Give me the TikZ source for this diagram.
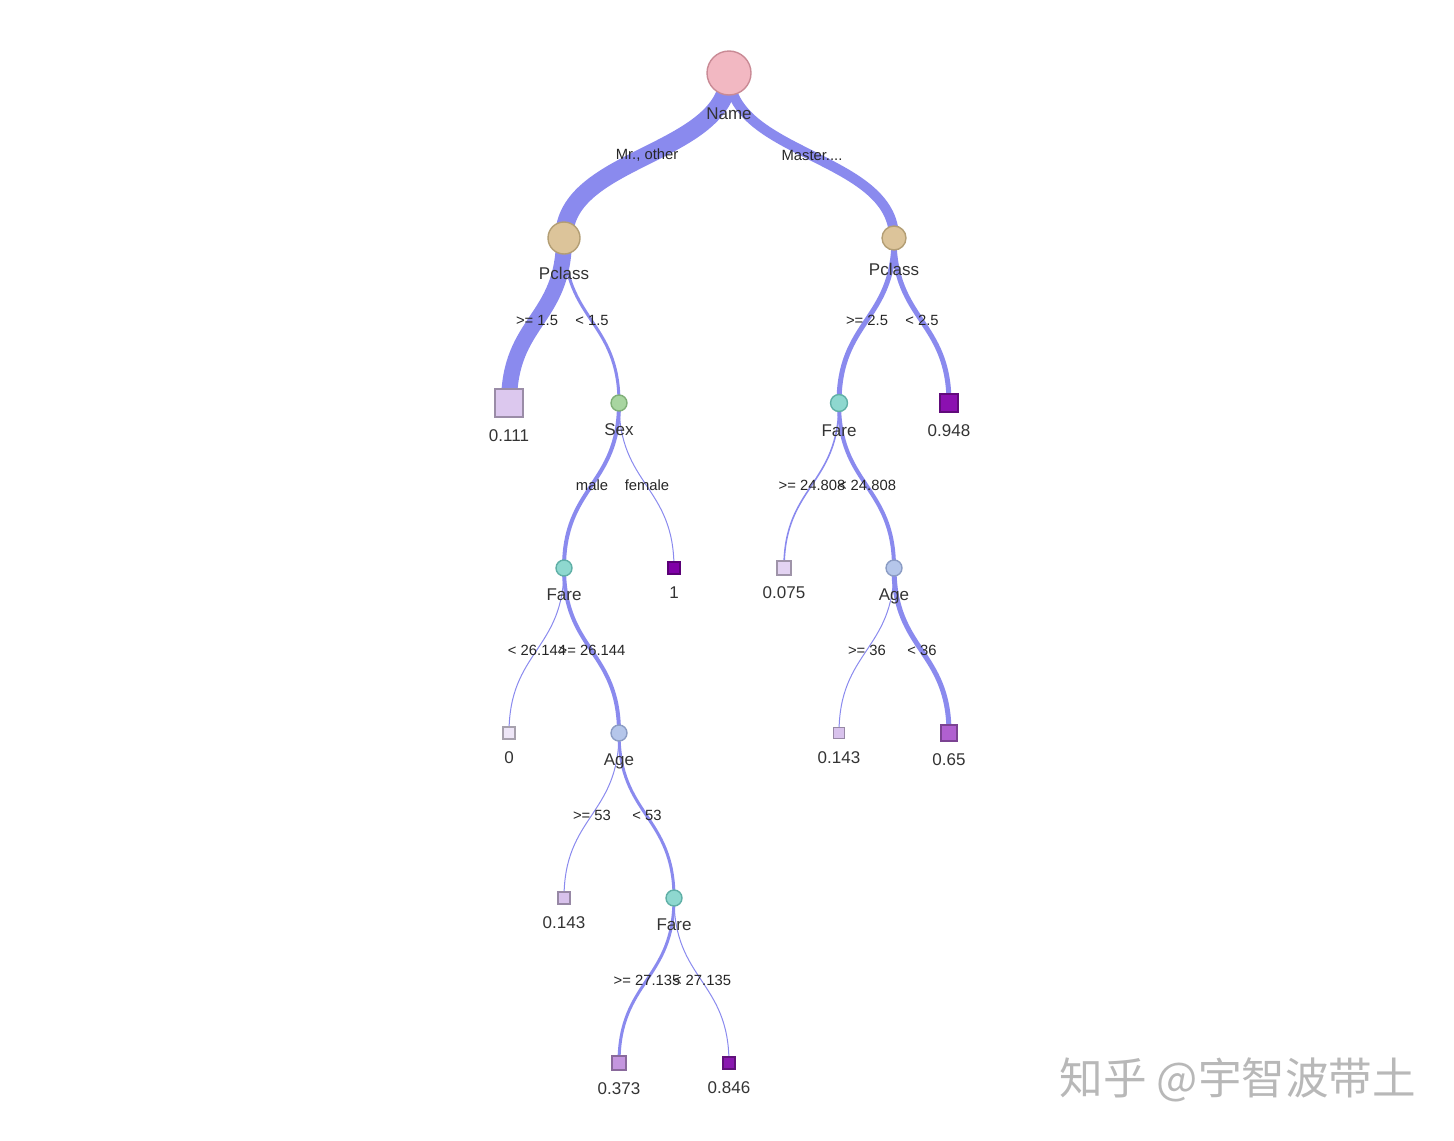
\documentclass[tikz,border=0pt]{standalone}
\usepackage{fontspec}
\setmainfont{Liberation Sans}
\newfontfamily\cjk{Noto Sans CJK SC}
\usetikzlibrary{calc,backgrounds}
\definecolor{eblue}{HTML}{8A8AEE}
\definecolor{rootc}{HTML}{F2B8C2}
\definecolor{rootd}{HTML}{C98A95}
\definecolor{tanc}{HTML}{DCC49A}
\definecolor{tand}{HTML}{B39E74}
\definecolor{tealc}{HTML}{8ED8CF}
\definecolor{teald}{HTML}{5FAFA6}
\definecolor{agec}{HTML}{B5C6EA}
\definecolor{aged}{HTML}{8B9CC4}
\definecolor{sexc}{HTML}{A8D5A0}
\definecolor{sexd}{HTML}{7FAF77}
\definecolor{la}{HTML}{DCC8EE}
\definecolor{lb}{HTML}{8B10B0}
\definecolor{lc}{HTML}{8000A8}
\definecolor{ld}{HTML}{E3D3F2}
\definecolor{le}{HTML}{EEE6F7}
\definecolor{lf}{HTML}{D8C2EC}
\definecolor{lg}{HTML}{B060D0}
\definecolor{lh}{HTML}{C496DE}
\definecolor{li}{HTML}{8A18B0}
\begin{document}
\begin{tikzpicture}[x=0.5pt,y=-0.5pt,
 inner/.style={circle,draw,line width=0.7pt,inner sep=0pt},
 leaf/.style={rectangle,draw,line width=0.7pt,inner sep=0pt},
 lab/.style={font=\fontsize{8.5}{10}\selectfont,text=black!80,inner sep=0pt},
 elab/.style={font=\fontsize{7.4}{9}\selectfont,text=black!85,inner sep=0pt},
 edge/.style={draw=eblue,line cap=butt}]
\useasboundingbox (0,0) rectangle (1454,1140);
\newcommand{\ed}[3]{\begin{pgfonlayer}{background}\draw[edge,line width=#3] let \p1=(#1.center),\p2=(#2.center) in (\p1) .. controls (\x1,{(\y1+\y2)/2}) and (\x2,{(\y1+\y2)/2}) .. (\p2);\end{pgfonlayer}}
% inner nodes
\node[inner,minimum size=22pt,fill=rootc,draw=rootd] (r) at (729,73) {};
\node[inner,minimum size=16pt,fill=tanc,draw=tand] (p1) at (564,238) {};
\node[inner,minimum size=12pt,fill=tanc,draw=tand] (p2) at (894,238) {};
\node[inner,minimum size=8pt,fill=sexc,draw=sexd] (sex) at (619,403) {};
\node[inner,minimum size=8.5pt,fill=tealc,draw=teald] (f1) at (839,403) {};
\node[inner,minimum size=8pt,fill=tealc,draw=teald] (f2) at (564,568) {};
\node[inner,minimum size=8pt,fill=agec,draw=aged] (a1) at (894,568) {};
\node[inner,minimum size=8pt,fill=agec,draw=aged] (a2) at (619,733) {};
\node[inner,minimum size=8pt,fill=tealc,draw=teald] (f3) at (674,898) {};
% leaves
\node[leaf,minimum size=14pt,fill=la,draw=la!70!black] (l111) at (509,403) {};
\node[leaf,minimum size=9pt,fill=lb,draw=lb!70!black] (l948) at (949,403) {};
\node[leaf,minimum size=6pt,fill=lc,draw=lc!70!black] (l1) at (674,568) {};
\node[leaf,minimum size=7pt,fill=ld,draw=ld!70!black] (l075) at (784,568) {};
\node[leaf,minimum size=6pt,fill=le,draw=le!70!black] (l0) at (509,733) {};
\node[leaf,minimum size=5.5pt,fill=lf,draw=lf!70!black] (l143a) at (839,733) {};
\node[leaf,minimum size=8pt,fill=lg,draw=lg!70!black] (l65) at (949,733) {};
\node[leaf,minimum size=6pt,fill=lf,draw=lf!70!black] (l143b) at (564,898) {};
\node[leaf,minimum size=7pt,fill=lh,draw=lh!70!black] (l373) at (619,1063) {};
\node[leaf,minimum size=6pt,fill=li,draw=li!70!black] (l846) at (729,1063) {};
% node labels
\node[lab] (tr) at (729,114) {Name};
\node[lab] (tp1) at (564,273) {Pclass};
\node[lab] (tp2) at (894,269) {Pclass};
\node[lab] (tsex) at (619,430) {Sex};
\node[lab] (tf1) at (839,431) {Fare};
\node[lab] (tf2) at (564,595) {Fare};
\node[lab] (ta1) at (894,596) {Age};
\node[lab] (ta2) at (619,761) {Age};
\node[lab] (tf3) at (674,925) {Fare};
\node[lab] (t111) at (509,436) {0.111};
\node[lab] (t948) at (949,431) {0.948};
\node[lab] (t1) at (674,593) {1};
\node[lab] (t075) at (784,593) {0.075};
\node[lab] (t0) at (509,758) {0};
\node[lab] (t143a) at (839,758) {0.143};
\node[lab] (t65) at (949,760) {0.65};
\node[lab] (t143b) at (564,923) {0.143};
\node[lab] (t373) at (619,1089) {0.373};
\node[lab] (t846) at (729,1088) {0.846};
% edges
\ed{r}{p1}{9pt} \ed{r}{p2}{5pt}
\ed{p1}{l111}{8pt} \ed{p1}{sex}{1.5pt}
\ed{p2}{f1}{2.5pt} \ed{p2}{l948}{2.5pt}
\ed{sex}{f2}{2pt} \ed{sex}{l1}{0.5pt}
\ed{f1}{l075}{0.8pt} \ed{f1}{a1}{2pt}
\ed{f2}{l0}{0.5pt} \ed{f2}{a2}{2pt}
\ed{a1}{l143a}{0.5pt} \ed{a1}{l65}{2.5pt}
\ed{a2}{l143b}{0.5pt} \ed{a2}{f3}{1.5pt}
\ed{f3}{l373}{1.5pt} \ed{f3}{l846}{0.5pt}
% edge labels
\node[elab] (e1) at (647,155) {Mr., other};
\node[elab] (e2) at (812,155) {Master....};
\node[elab] (e3) at (537,320) {>= 1.5};
\node[elab] (e4) at (592,320) {< 1.5};
\node[elab] (e5) at (867,320) {>= 2.5};
\node[elab] (e6) at (922,320) {< 2.5};
\node[elab] (e7) at (592,485) {male};
\node[elab] (e8) at (647,485) {female};
\node[elab] (e9) at (812,485) {>= 24.808};
\node[elab] (e10) at (867,485) {< 24.808};
\node[elab] (e11) at (537,650) {< 26.144};
\node[elab] (e12) at (592,650) {>= 26.144};
\node[elab] (e13) at (867,650) {>= 36};
\node[elab] (e14) at (922,650) {< 36};
\node[elab] (e15) at (592,815) {>= 53};
\node[elab] (e16) at (647,815) {< 53};
\node[elab] (e17) at (647,980) {>= 27.135};
\node[elab] (e18) at (702,980) {< 27.135};
% watermark
\node[font=\cjk\fontsize{21.8}{26}\selectfont,text=black!28,inner sep=0pt] (wm) at (1238,1080) {知乎 @宇智波带土};
\end{tikzpicture}
\end{document}
